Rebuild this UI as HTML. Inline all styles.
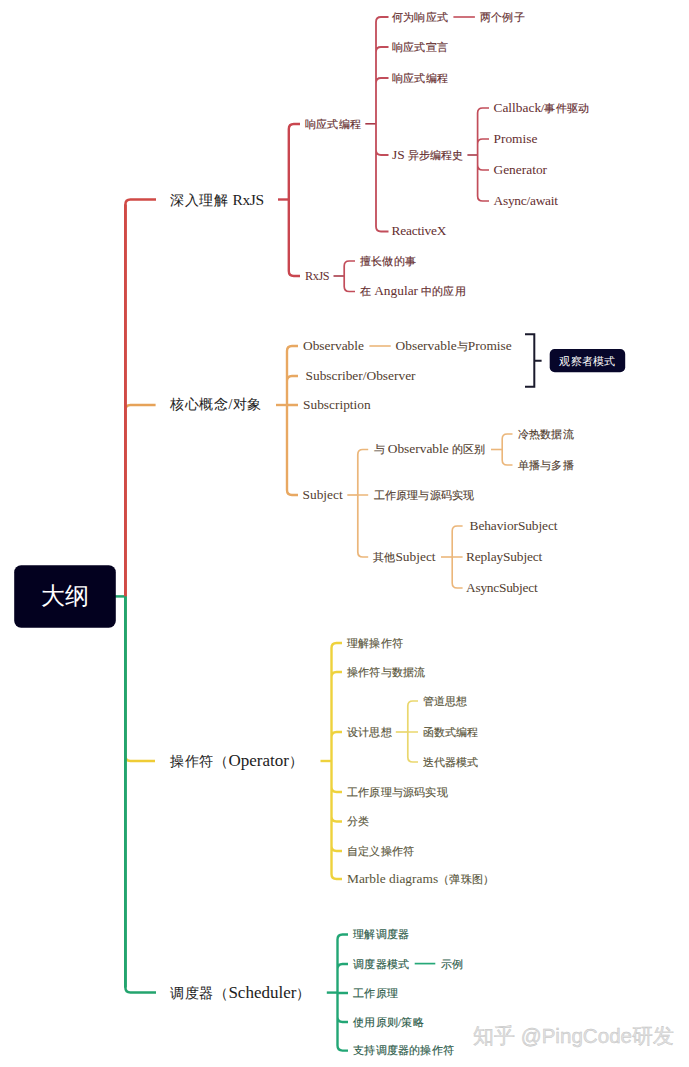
<!DOCTYPE html>
<html><head><meta charset="utf-8"><style>
html,body{margin:0;padding:0;background:#fff;width:689px;height:1067px;overflow:hidden;position:relative}
.t{position:absolute;white-space:nowrap;letter-spacing:0.2px;height:20px;line-height:20px;font-family:"Liberation Serif",serif}
.m{font-size:14.0px;letter-spacing:0.6px;color:#1c1c1c;-webkit-text-stroke:0.05px #1c1c1c}
.s{font-size:11.0px}
.l{font-family:"Liberation Serif",serif;-webkit-text-stroke:0}
.wm{position:absolute;left:473px;top:1024px;font-family:"Liberation Sans",sans-serif;font-size:20.6px;line-height:24px;color:#e2e2e2;-webkit-text-stroke:0.4px #c0c0c0;white-space:nowrap}
</style></head><body>
<svg width="689" height="1067" style="position:absolute;left:0;top:0">
<path d="M125.4,596.4 V410.0 Q125.4,405.0 130.4,405.0 H155.6" fill="none" stroke="#e6a258" stroke-width="2.5"/>
<path d="M125.4,596.4 V204.5 Q125.4,199.5 130.4,199.5 H156.0" fill="none" stroke="#d04a46" stroke-width="2.5"/>
<path d="M125.4,596.4 V756.0 Q125.4,761.0 130.4,761.0 H155.0" fill="none" stroke="#efcc35" stroke-width="2.5"/>
<path d="M125.4,596.4 V987.6 Q125.4,992.6 130.4,992.6 H156.0" fill="none" stroke="#23a46e" stroke-width="2.5"/>
<path d="M114,596.4 H126.5" fill="none" stroke="#23a46e" stroke-width="2.5"/>
<path d="M125.4,204.5 V596.4" fill="none" stroke="#d04a46" stroke-width="2.8"/>
<path d="M125.4,596.4 V987.6" fill="none" stroke="#23a46e" stroke-width="2.8"/>
<path d="M278.0,199.5 H289.0" fill="none" stroke="#c9464f" stroke-width="2.4"/>
<path d="M300.0,124.0 H293.8 Q288.8,124.0 288.8,129.0 V271.0 Q288.8,276.0 293.8,276.0 H300.0" fill="none" stroke="#c9464f" stroke-width="2.4"/>
<path d="M276.0,405.0 H287.0" fill="none" stroke="#e8a862" stroke-width="2.4"/>
<path d="M298.0,346.0 H292.0 Q287.0,346.0 287.0,351.0 V490.0 Q287.0,495.0 292.0,495.0 H298.0 M287.0,381.0 Q287.0,376.0 292.0,376.0 H298.0 M287.0,405.0 H298.0" fill="none" stroke="#e8a862" stroke-width="2.4"/>
<path d="M320.5,761.0 H331.6" fill="none" stroke="#eed23d" stroke-width="2.4"/>
<path d="M342.0,643.0 H336.5 Q331.5,643.0 331.5,648.0 V874.0 Q331.5,879.0 336.5,879.0 H342.0 M331.5,677.0 Q331.5,672.0 336.5,672.0 H342.0 M331.5,737.0 Q331.5,732.0 336.5,732.0 H342.0 M331.5,787.0 Q331.5,792.0 336.5,792.0 H342.0 M331.5,816.5 Q331.5,821.5 336.5,821.5 H342.0 M331.5,846.0 Q331.5,851.0 336.5,851.0 H342.0" fill="none" stroke="#eed23d" stroke-width="2.4"/>
<path d="M326.8,992.6 H337.5" fill="none" stroke="#22a675" stroke-width="2.4"/>
<path d="M348.0,934.5 H342.5 Q337.5,934.5 337.5,939.5 V1045.6 Q337.5,1050.6 342.5,1050.6 H348.0 M337.5,969.0 Q337.5,964.0 342.5,964.0 H348.0 M337.5,993.0 H348.0 M337.5,1017.0 Q337.5,1022.0 342.5,1022.0 H348.0" fill="none" stroke="#22a675" stroke-width="2.4"/>
<path d="M365.3,123.8 H376.0" fill="none" stroke="#a83a48" stroke-width="1.6"/>
<path d="M388.5,17.0 H381.0 Q376.0,17.0 376.0,22.0 V226.5 Q376.0,231.5 381.0,231.5 H388.5 M376.0,52.0 Q376.0,47.0 381.0,47.0 H388.5 M376.0,83.0 Q376.0,78.0 381.0,78.0 H388.5 M376.0,150.0 Q376.0,155.0 381.0,155.0 H388.5" fill="none" stroke="#c24d5a" stroke-width="1.8"/>
<path d="M453.4,17.0 H474.9" fill="none" stroke="#c24d5a" stroke-width="1.6"/>
<path d="M467.4,155.0 H477.6" fill="none" stroke="#a83a48" stroke-width="1.6"/>
<path d="M489.0,108.0 H482.6 Q477.6,108.0 477.6,113.0 V196.0 Q477.6,201.0 482.6,201.0 H489.0 M477.6,144.0 Q477.6,139.0 482.6,139.0 H489.0 M477.6,165.0 Q477.6,170.0 482.6,170.0 H489.0" fill="none" stroke="#c24d5a" stroke-width="1.7"/>
<path d="M333.5,276.0 H344.2" fill="none" stroke="#a83a48" stroke-width="1.6"/>
<path d="M355.0,261.0 H349.2 Q344.2,261.0 344.2,266.0 V286.5 Q344.2,291.5 349.2,291.5 H355.0" fill="none" stroke="#c24d5a" stroke-width="1.7"/>
<path d="M369.4,346.0 H390.7" fill="none" stroke="#ebb67a" stroke-width="1.6"/>
<path d="M347.3,495.0 H357.8" fill="none" stroke="#ebb67a" stroke-width="1.7"/>
<path d="M368.2,449.5 H362.8 Q357.8,449.5 357.8,454.5 V552.0 Q357.8,557.0 362.8,557.0 H368.2 M357.8,495.0 H368.2" fill="none" stroke="#ebb67a" stroke-width="1.7"/>
<path d="M491.0,449.5 H502.2" fill="none" stroke="#ebb67a" stroke-width="1.6"/>
<path d="M512.5,434.0 H507.2 Q502.2,434.0 502.2,439.0 V460.0 Q502.2,465.0 507.2,465.0 H512.5" fill="none" stroke="#ebb67a" stroke-width="1.6"/>
<path d="M441.0,557.0 H452.2" fill="none" stroke="#ebb67a" stroke-width="1.6"/>
<path d="M462.6,526.0 H457.2 Q452.2,526.0 452.2,531.0 V583.0 Q452.2,588.0 457.2,588.0 H462.6 M452.2,557.0 H462.6" fill="none" stroke="#ebb67a" stroke-width="1.6"/>
<path d="M395.8,732.0 H407.8" fill="none" stroke="#ead76e" stroke-width="1.7"/>
<path d="M418.0,701.0 H412.8 Q407.8,701.0 407.8,706.0 V757.0 Q407.8,762.0 412.8,762.0 H418.0 M407.8,732.0 H418.0" fill="none" stroke="#ead76e" stroke-width="1.7"/>
<path d="M414.7,963.6 H435.3" fill="none" stroke="#26a878" stroke-width="1.7"/>
<path d="M525,334.3 H534.3 V386.8 H525 M534.3,360.7 H541.6" fill="none" stroke="#1a1a2c" stroke-width="2"/>
<rect x="549.7" y="349.1" width="75.5" height="23.2" rx="5" fill="#07062a"/>
<rect x="14.2" y="565.2" width="101.6" height="62.6" rx="7" fill="#03011f"/>
</svg>
<div class="t m" style="left:170.0px;top:189.5px">深入理解 <span class="l" style="font-size:15.5px;letter-spacing:-0.40px">RxJS</span></div>
<div class="t m" style="left:170.0px;top:395.0px">核心概念/对象</div>
<div class="t m" style="left:170.0px;top:751.0px">操作符（<span class="l" style="font-size:17.0px;letter-spacing:0.00px">Operator</span>）</div>
<div class="t m" style="left:170.0px;top:982.6px">调度器（<span class="l" style="font-size:17.0px;letter-spacing:0.00px">Scheduler</span>）</div>
<div class="t s" style="left:305.0px;top:113.5px;color:#652e2f;-webkit-text-stroke:0.15px #652e2f">响应式编程</div>
<div class="t s" style="left:305.0px;top:265.5px;color:#652e2f;-webkit-text-stroke:0.15px #652e2f"><span class="l" style="font-size:12.2px;letter-spacing:-0.40px">RxJS</span></div>
<div class="t s" style="left:392.0px;top:6.5px;color:#652e2f;-webkit-text-stroke:0.15px #652e2f">何为响应式</div>
<div class="t s" style="left:480.0px;top:6.5px;color:#652e2f;-webkit-text-stroke:0.15px #652e2f">两个例子</div>
<div class="t s" style="left:392.0px;top:36.5px;color:#652e2f;-webkit-text-stroke:0.15px #652e2f">响应式宣言</div>
<div class="t s" style="left:392.0px;top:67.5px;color:#652e2f;-webkit-text-stroke:0.15px #652e2f">响应式编程</div>
<div class="t s" style="left:392.0px;top:144.5px;color:#652e2f;-webkit-text-stroke:0.15px #652e2f"><span class="l" style="font-size:13.4px;letter-spacing:0.00px">JS</span> 异步编程史</div>
<div class="t s" style="left:493.5px;top:97.5px;color:#652e2f;-webkit-text-stroke:0.15px #652e2f"><span class="l" style="font-size:13.4px;letter-spacing:0.00px">Callback</span>/事件驱动</div>
<div class="t s" style="left:493.5px;top:128.5px;color:#652e2f;-webkit-text-stroke:0.15px #652e2f"><span class="l" style="font-size:13.4px;letter-spacing:0.00px">Promise</span></div>
<div class="t s" style="left:493.5px;top:159.5px;color:#652e2f;-webkit-text-stroke:0.15px #652e2f"><span class="l" style="font-size:13.4px;letter-spacing:0.00px">Generator</span></div>
<div class="t s" style="left:493.5px;top:190.5px;color:#652e2f;-webkit-text-stroke:0.15px #652e2f"><span class="l" style="font-size:13.4px;letter-spacing:-0.25px">Async/await</span></div>
<div class="t s" style="left:391.5px;top:221.0px;color:#652e2f;-webkit-text-stroke:0.15px #652e2f"><span class="l" style="font-size:13.4px;letter-spacing:-0.20px">ReactiveX</span></div>
<div class="t s" style="left:360.0px;top:250.5px;color:#652e2f;-webkit-text-stroke:0.15px #652e2f">擅长做的事</div>
<div class="t s" style="left:360.0px;top:281.0px;color:#652e2f;-webkit-text-stroke:0.15px #652e2f">在 <span class="l" style="font-size:13.4px;letter-spacing:0.00px">Angular</span> 中的应用</div>
<div class="t s" style="left:303.0px;top:335.5px;color:#524030;-webkit-text-stroke:0.15px #524030"><span class="l" style="font-size:13.4px;letter-spacing:0.00px">Observable</span></div>
<div class="t s" style="left:395.6px;top:335.5px;color:#524030;-webkit-text-stroke:0.15px #524030"><span class="l" style="font-size:13.4px;letter-spacing:0.00px">Observable</span>与<span class="l" style="font-size:13.4px;letter-spacing:0.00px">Promise</span></div>
<div class="t s" style="left:305.5px;top:365.5px;color:#524030;-webkit-text-stroke:0.15px #524030"><span class="l" style="font-size:13.4px;letter-spacing:0.00px">Subscriber/Observer</span></div>
<div class="t s" style="left:303.0px;top:394.5px;color:#524030;-webkit-text-stroke:0.15px #524030"><span class="l" style="font-size:13.4px;letter-spacing:0.00px">Subscription</span></div>
<div class="t s" style="left:302.5px;top:484.5px;color:#524030;-webkit-text-stroke:0.15px #524030"><span class="l" style="font-size:13.4px;letter-spacing:0.00px">Subject</span></div>
<div class="t s" style="left:373.6px;top:439.0px;color:#524030;-webkit-text-stroke:0.15px #524030">与 <span class="l" style="font-size:13.4px;letter-spacing:0.00px">Observable</span> 的区别</div>
<div class="t s" style="left:517.8px;top:423.5px;color:#524030;-webkit-text-stroke:0.15px #524030">冷热数据流</div>
<div class="t s" style="left:517.8px;top:454.5px;color:#524030;-webkit-text-stroke:0.15px #524030">单播与多播</div>
<div class="t s" style="left:373.6px;top:484.5px;color:#524030;-webkit-text-stroke:0.15px #524030">工作原理与源码实现</div>
<div class="t s" style="left:373.0px;top:546.5px;color:#524030;-webkit-text-stroke:0.15px #524030">其他<span class="l" style="font-size:13.4px;letter-spacing:0.00px">Subject</span></div>
<div class="t s" style="left:469.6px;top:515.5px;color:#524030;-webkit-text-stroke:0.15px #524030"><span class="l" style="font-size:13.4px;letter-spacing:-0.10px">BehaviorSubject</span></div>
<div class="t s" style="left:466.0px;top:546.5px;color:#524030;-webkit-text-stroke:0.15px #524030"><span class="l" style="font-size:13.4px;letter-spacing:-0.15px">ReplaySubject</span></div>
<div class="t s" style="left:466.0px;top:577.5px;color:#524030;-webkit-text-stroke:0.15px #524030"><span class="l" style="font-size:13.4px;letter-spacing:-0.25px">AsyncSubject</span></div>
<div class="t s" style="left:347.0px;top:632.5px;color:#59553a;-webkit-text-stroke:0.15px #59553a">理解操作符</div>
<div class="t s" style="left:347.0px;top:661.5px;color:#59553a;-webkit-text-stroke:0.15px #59553a">操作符与数据流</div>
<div class="t s" style="left:347.0px;top:721.5px;color:#59553a;-webkit-text-stroke:0.15px #59553a">设计思想</div>
<div class="t s" style="left:422.7px;top:690.5px;color:#59553a;-webkit-text-stroke:0.15px #59553a">管道思想</div>
<div class="t s" style="left:422.7px;top:721.5px;color:#59553a;-webkit-text-stroke:0.15px #59553a">函数式编程</div>
<div class="t s" style="left:422.7px;top:751.5px;color:#59553a;-webkit-text-stroke:0.15px #59553a">迭代器模式</div>
<div class="t s" style="left:347.0px;top:781.5px;color:#59553a;-webkit-text-stroke:0.15px #59553a">工作原理与源码实现</div>
<div class="t s" style="left:347.0px;top:811.0px;color:#59553a;-webkit-text-stroke:0.15px #59553a">分类</div>
<div class="t s" style="left:347.0px;top:840.5px;color:#59553a;-webkit-text-stroke:0.15px #59553a">自定义操作符</div>
<div class="t s" style="left:347.0px;top:868.5px;color:#59553a;-webkit-text-stroke:0.15px #59553a"><span class="l" style="font-size:13.4px;letter-spacing:0.00px">Marble diagrams</span>（弹珠图）</div>
<div class="t s" style="left:353.3px;top:924.0px;color:#2b5a48;-webkit-text-stroke:0.15px #2b5a48">理解调度器</div>
<div class="t s" style="left:353.3px;top:953.5px;color:#2b5a48;-webkit-text-stroke:0.15px #2b5a48">调度器模式</div>
<div class="t s" style="left:440.8px;top:953.5px;color:#2b5a48;-webkit-text-stroke:0.15px #2b5a48">示例</div>
<div class="t s" style="left:353.3px;top:982.5px;color:#2b5a48;-webkit-text-stroke:0.15px #2b5a48">工作原理</div>
<div class="t s" style="left:353.3px;top:1011.5px;color:#2b5a48;-webkit-text-stroke:0.15px #2b5a48">使用原则/策略</div>
<div class="t s" style="left:353.3px;top:1040.1px;color:#2b5a48;-webkit-text-stroke:0.15px #2b5a48">支持调度器的操作符</div>
<div class="t" style="left:549.7px;top:350.7px;width:75.5px;text-align:center;color:#fff;font-size:11.4px">观察者模式</div>
<div class="t" style="left:14.2px;top:575.5px;width:101.6px;height:40px;line-height:40px;text-align:center;color:#fff;font-size:24px">大纲</div>
<div class="wm">知乎 @PingCode研发</div>
</body></html>
